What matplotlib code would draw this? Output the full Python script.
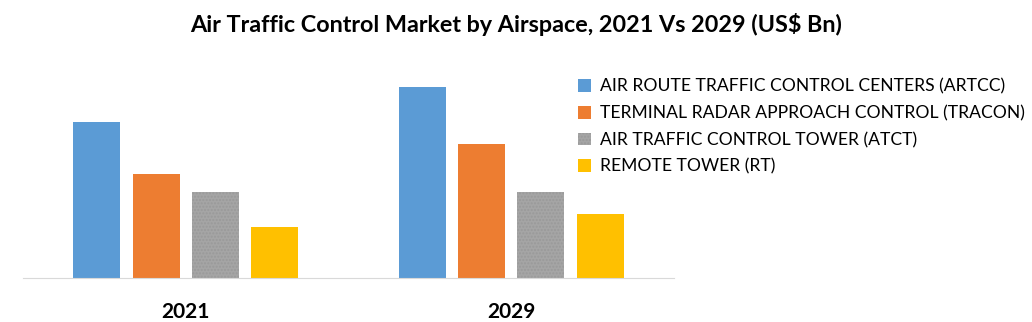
import matplotlib
matplotlib.use("Agg")
import matplotlib.pyplot as plt
import numpy as np

years = ['2021', '2029']
series = ['AIR ROUTE TRAFFIC CONTROL CENTERS (ARTCC)',
          'TERMINAL RADAR APPROACH CONTROL (TRACON)',
          'AIR TRAFFIC CONTROL TOWER (ATCT)',
          'REMOTE TOWER (RT)']
artcc = [15.6, 19.1]
tracon = [10.4, 13.4]
atct = [8.6, 8.6]
rt = [5.1, 6.4]
colors = ['#5b9bd5', '#ed7d31', '#a5a5a5', '#ffc000']

fnt = ['Lato', 'DejaVu Sans']

fig = plt.figure(figsize=(10.32, 3.22), dpi=100)
ax = fig.add_axes([23/1032, 44/322, 651/1032, 218/322])

x = np.arange(len(years))
w = 0.144
step = 0.182
values = [artcc, tracon, atct, rt]
for i, (vals, name, c) in enumerate(zip(values, series, colors)):
    off = (i - 1.5) * step
    if i == 2:
        ax.bar(x + off, vals, w, color=c, label=name, hatch='.....',
               edgecolor='#999999', linewidth=0)
    else:
        ax.bar(x + off, vals, w, color=c, label=name)

ax.set_xlim(-0.5, 1.5)
ax.set_ylim(0, 21.8)
ax.set_xticks(x)
ax.set_xticklabels(years, fontsize=15, fontweight='bold', family=fnt)
ax.tick_params(axis='x', length=0, pad=17)
ax.set_yticks([])
for s in ['top', 'right', 'left']:
    ax.spines[s].set_visible(False)
ax.spines['bottom'].set_color('#d9d9d9')

fig.text(0.5, 1 - 24/322, 'Air Traffic Control Market by Airspace, 2021 Vs 2029 (US$ Bn)',
         ha='center', va='center', fontsize=16.8, fontweight='bold', family=fnt)

fig.legend(loc='upper left', bbox_to_anchor=(562/1032, 1 - 63/322),
           frameon=False, handlelength=0.75, handleheight=0.75,
           handletextpad=0.5, labelspacing=0.6,
           prop={'family': fnt, 'size': 12.6})

fig.savefig('out.png', dpi=100)
